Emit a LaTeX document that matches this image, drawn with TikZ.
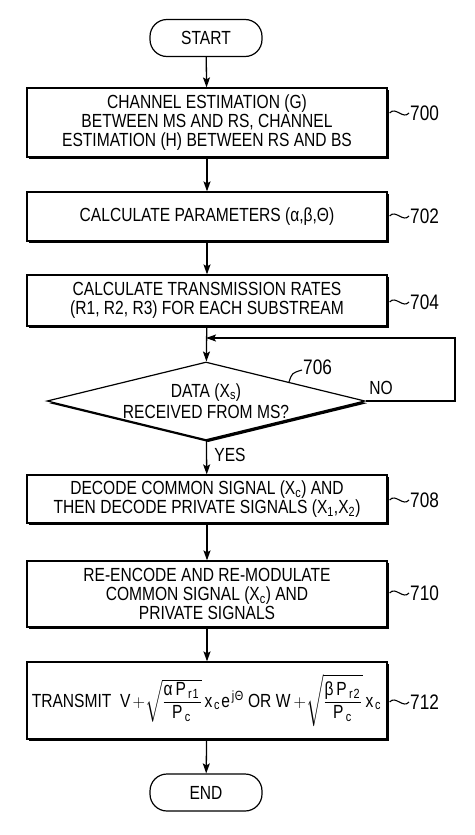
\documentclass[tikz,border=0pt]{standalone}
\usepackage{amsmath}
\usepackage{fontspec}
\setmainfont[FakeStretch=0.82]{Liberation Sans}
\usetikzlibrary{shapes.geometric,shadows,arrows.meta,calc}
\tikzset{
  shad/.style={drop shadow={shadow xshift=2.2pt,shadow yshift=-2.2pt,opacity=1,fill=black}},
  box/.style={draw,line width=1.2pt,fill=white,minimum width=360,inner sep=0pt,align=center,shad,
    font=\fontsize{19}{19}\selectfont},
  term/.style={draw,line width=1.2pt,fill=white,minimum width=112,minimum height=37,rounded corners=17,
    inner sep=0pt,font=\fontsize{19}{19}\selectfont},
  dec/.style={draw,diamond,line width=1.2pt,fill=white,minimum width=318,minimum height=78,aspect=4.1,
    inner sep=0pt,align=center,shad,font=\fontsize{19}{21}\selectfont},
  lab/.style={inner sep=0pt,anchor=west,font=\fontsize{21}{21}\selectfont},
  txt/.style={inner sep=0pt,font=\fontsize{19}{19}\selectfont},
  arr/.style={line width=1.3pt,-{Stealth[length=10pt,width=7pt,inset=2pt]}},
  tild/.style={line width=1.1pt}
}
\newcommand{\tildeto}[2]{\draw[tild] (#1.east |- #2.west) ++(2,0) .. controls +(6,-7) and +(-6,7) .. ([xshift=-1pt]#2.west);}
\begin{document}
\begin{tikzpicture}[x=1pt,y=-1pt]
\useasboundingbox (0,0) rectangle (474,835);
\node[term] (start) at (206,38) {START};
\node[box,minimum height=69] (b700) at (207,122.5) {CHANNEL ESTIMATION (G)\\BETWEEN MS AND RS, CHANNEL\\ESTIMATION (H) BETWEEN RS AND BS};
\node[box,minimum height=49] (b702) at (207,216.5) {CALCULATE PARAMETERS (α,β,Θ)};
\node[box,minimum height=51] (b704) at (207,300.5) {CALCULATE TRANSMISSION RATES\\(R1, R2, R3) FOR EACH SUBSTREAM};
\node[dec] (d706) at (206,401) {DATA (X\textsubscript{s})\\RECEIVED FROM MS?};
\node[box,minimum height=48] (b708) at (207,499) {DECODE COMMON SIGNAL (X\textsubscript{c}) AND\\THEN DECODE PRIVATE SIGNALS (X\textsubscript{1},X\textsubscript{2})};
\node[box,minimum height=66] (b710) at (207,594) {RE-ENCODE AND RE-MODULATE\\COMMON SIGNAL (X\textsubscript{c}) AND\\PRIVATE SIGNALS};
\node[box,minimum height=77] (b712) at (207,700.5) {TRANSMIT\ \ $\mathrm{V}{+}\sqrt{\dfrac{\text{α}\,\mathrm{P}_{\mathrm{r1}}}{\mathrm{P}_{\mathrm{c}}}}\,\mathrm{x}_{\mathrm{c}}\mathrm{e}^{\mathrm{j}\text{Θ}}$ OR $\mathrm{W}{+}\sqrt{\dfrac{\text{β}\,\mathrm{P}_{\mathrm{r2}}}{\mathrm{P}_{\mathrm{c}}}}\,\mathrm{x}_{\mathrm{c}}$};
\node[term] (end) at (206,792.5) {END};
% labels
\node[lab] (l700) at (410,113) {700};
\node[lab] (l702) at (410,216) {702};
\node[lab] (l704) at (410,302) {704};
\node[lab] (l706) at (303,367) {706};
\node[lab] (l708) at (410,500) {708};
\node[lab] (l710) at (410,593) {710};
\node[lab] (l712) at (410,702) {712};
\node[txt] (no) at (381,388) {NO};
\node[txt] (yes) at (230,455) {YES};
\tildeto{b700}{l700}
\tildeto{b702}{l702}
\tildeto{b704}{l704}
\tildeto{b708}{l708}
\tildeto{b710}{l710}
\tildeto{b712}{l712}
\coordinate (e706) at ($(d706.north)!0.52!(d706.east)$);
\draw[tild] (e706) .. controls +(3,-9) .. ([xshift=-1pt,yshift=-3pt]l706.west);
% connectors
\coordinate (join) at (206,338);
\coordinate (loopr) at (455,338);
\draw[arr] (start) -- (b700);
\draw[arr] (b700) -- (b702);
\draw[arr] (b702) -- (b704);
\draw[arr] (b704) -- (d706);
\draw[arr] (d706.east) -| (loopr) -- (join);
\draw[arr] (d706) -- (b708);
\draw[arr] (b708) -- (b710);
\draw[arr] (b710) -- (b712);
\draw[arr] (b712) -- (end);
\end{tikzpicture}
\end{document}
